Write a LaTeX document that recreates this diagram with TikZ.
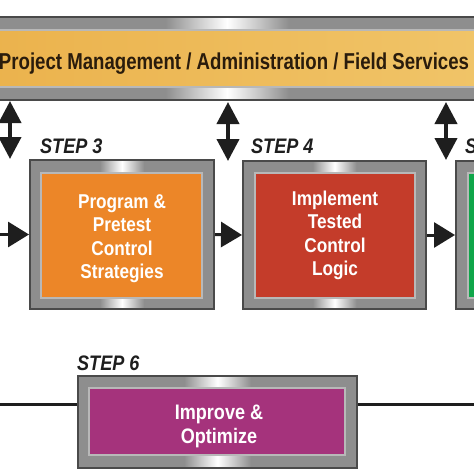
\documentclass[tikz,border=0pt]{standalone}
\usepackage{fontspec}
\newfontfamily\condfont{Liberation Sans}[FakeStretch=0.86]
\newfontfamily\titlefont{Liberation Sans}[FakeStretch=0.81]
\newfontfamily\lblfont{Liberation Sans}[FakeStretch=0.86]
\usetikzlibrary{arrows.meta}
\definecolor{mg}{HTML}{8E8E8E}
\definecolor{mgl}{HTML}{C8C8C8}
\definecolor{frameedge}{HTML}{4A4A4A}
\definecolor{innerline}{HTML}{B8B8B8}
\definecolor{barY}{HTML}{F0C468}
\definecolor{barYd}{HTML}{EBB24C}
\definecolor{titletext}{HTML}{2A1C0C}
\definecolor{orangeC}{HTML}{EC8628}
\definecolor{redC}{HTML}{C43C2A}
\definecolor{greenC}{HTML}{10A64A}
\definecolor{magC}{HTML}{A5337C}
\definecolor{arrowC}{HTML}{1E1E1E}
\pgfdeclarehorizontalshading{metal}{100bp}{color(0bp)=(mg); color(25bp)=(mg); color(44bp)=(mg); color(47bp)=(mgl); color(50bp)=(white); color(53bp)=(mgl); color(56bp)=(mg); color(75bp)=(mg); color(100bp)=(mg)}
\tikzset{
  frame/.style={draw=frameedge, line width=2pt, shading=metal, inner sep=0pt},
  innerbox/.style={draw=innerline, line width=1.2pt, inner sep=0pt},
  boxtext/.style={inner sep=0pt, align=center, text=white,
    font={\condfont\bfseries\fontsize{20}{23.5}\selectfont}},
  steplbl/.style={inner sep=0pt, text=arrowC, font={\lblfont\bfseries\itshape\fontsize{21}{25}\selectfont}},
  dblarrow/.style={draw=arrowC, line width=4pt, {Triangle[width=22pt,length=22pt]}-{Triangle[width=22pt,length=22pt]}},
  harrow/.style={draw=arrowC, line width=3pt, -{Triangle[width=25pt,length=21pt]}},
  hline/.style={draw=arrowC, line width=3pt}
}
\begin{document}
\begin{tikzpicture}[x=1pt,y=-1pt]
\useasboundingbox (0,0) rectangle (474,474);
\fill[white] (0,0) rectangle (474,474);
\clip (0,0) rectangle (474,474);
% top bar
\node[frame, minimum width=512pt, minimum height=83pt] (barf) at (227,58.5) {};
\node[innerbox, minimum width=504pt, minimum height=57pt, left color=barYd, middle color=barY, right color=barY] (bar) at (227,58.5) {};
\node[inner sep=0pt, anchor=base, text=titletext, font={\titlefont\bfseries\fontsize{23}{27}\selectfont}] (title) at (234,69) {Project Management / Administration / Field Services};
% step boxes
\node[frame, minimum width=184pt, minimum height=149pt] (s3f) at (122,234.5) {};
\node[innerbox, minimum width=161pt, minimum height=125pt, left color=orangeC, middle color=orangeC!85!white, right color=orangeC] (s3) at (121.5,235.5) {};
\node[boxtext] (s3t) at (122,238.5) {Program \&\\Pretest\\Control\\Strategies};
\node[frame, minimum width=183pt, minimum height=148pt] (s4f) at (334.5,235) {};
\node[innerbox, minimum width=160pt, minimum height=125pt, left color=redC, middle color=redC!88!white, right color=redC] (s4) at (335,235.5) {};
\node[boxtext] (s4t) at (335,235.5) {Implement\\Tested\\Control\\Logic};
\node[frame, minimum width=183pt, minimum height=148pt] (s5f) at (547.5,235) {};
\node[innerbox, minimum width=160pt, minimum height=125pt, left color=greenC, middle color=greenC!88!white, right color=greenC] (s5) at (548,235.5) {};
\node[frame, minimum width=279pt, minimum height=92pt] (s6f) at (217.5,422) {};
\node[innerbox, minimum width=256pt, minimum height=67pt, left color=magC, middle color=magC!85!white, right color=magC] (s6) at (217,421.5) {};
\node[boxtext, font={\condfont\bfseries\fontsize{21}{24}\selectfont}] (s6t) at (219,426) {Improve \&\\Optimize};
% labels
\node[steplbl, anchor=base west] (l3) at (40,153) {STEP 3};
\node[steplbl, anchor=base west] (l4) at (251,153) {STEP 4};
\node[steplbl, anchor=base west] (l5) at (465,153) {STEP 5};
\node[steplbl, anchor=base west] (l6) at (77,370) {STEP 6};
% double arrows
\coordinate (u1) at (10,101); \coordinate (d1) at (10,159);
\coordinate (u2) at (228,102); \coordinate (d2) at (228,161);
\coordinate (u3) at (446,102); \coordinate (d3) at (446,160);
\draw[dblarrow] (u1) -- (d1);
\draw[dblarrow] (u2) -- (d2);
\draw[dblarrow] (u3) -- (d3);
% horizontal arrows
\coordinate (a0) at (0,234.5);
\draw[harrow] (a0) -- (s3f.west);
\draw[harrow] (s3f.east) -- (s4f.west);
\draw[harrow] (s4f.east) -- (s5f.west);
% step 6 lines
\coordinate (p6l) at (0,404);
\coordinate (p6r) at (474,404);
\draw[hline] (p6l) -- (p6l -| s6f.west);
\draw[hline] (p6r -| s6f.east) -- (p6r);
\end{tikzpicture}
\end{document}
